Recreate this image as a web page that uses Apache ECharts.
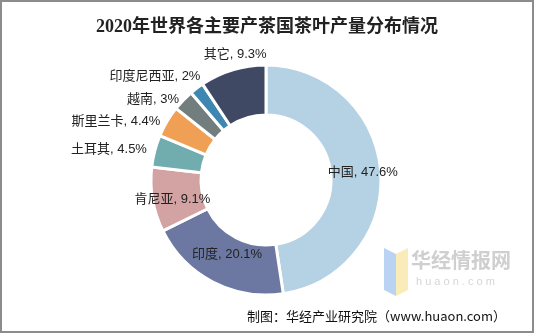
<!DOCTYPE html>
<html><head><meta charset="utf-8">
<script src="https://cdn.jsdelivr.net/npm/echarts@6/dist/echarts.min.js"></script>
<style>html,body{margin:0;padding:0;background:#fff}#c{width:534px;height:333px}</style>
</head><body><div id="c"></div>
<script>
const categories = ['中国','印度','肯尼亚','土耳其','斯里兰卡','越南','印度尼西亚','其它'];
const values = [47.6, 20.1, 9.1, 4.5, 4.4, 3, 2, 9.3];
const colors = ['#b5d1e4','#6c78a1','#d3a2a3','#71adae','#f0a054','#727e7e','#3d87b2','#3f4963'];
const labelOffsets = [[4,-1],[4,-8],[-2,3],[-67,-7],[-70,-11],[-46,-16],[-55,-29],[-4,-37]];
const titleText = '2020年世界各主要产茶国茶叶产量分布情况';
const sourceText = '制图：华经产业研究院（www.huaon.com）';

const chart = echarts.init(document.getElementById('c'), null, {renderer:'canvas'});
const data = categories.map((n,i)=>({
  name:n, value:values[i],
  itemStyle:{color:colors[i]},
  label:{offset:labelOffsets[i]}
}));
chart.setOption({
  animation:false,
  title:{text:titleText,left:'center',top:13,
    textStyle:{fontFamily:"'Liberation Serif','Noto Sans CJK SC'",fontSize:18,fontWeight:'bold',color:'#222'}},
  graphic:[
    {type:'rect',shape:{x:1,y:1,width:532,height:331},style:{fill:'none',stroke:'#8c8c8c',lineWidth:2},z:100},
    {type:'polygon',shape:{points:[[384,248],[396,254],[396,296],[384,290]]},style:{fill:'#a9c8f0',opacity:0.8}},
    {type:'polygon',shape:{points:[[396,254],[408,248],[408,290],[396,296]]},style:{fill:'#f7e7a6',opacity:0.8}},
    {type:'text',left:411,top:250,style:{text:'华经情报网',font:"bold 20px 'Noto Sans CJK SC'",fill:'#cfcfcf'}},
    {type:'text',left:416,top:276,style:{text:'h u a o n . c o m',font:"11px 'Liberation Sans'",fill:'#d6d6d6'}},
    {type:'text',right:28,top:310,style:{text:sourceText,font:"13px 'Noto Sans CJK SC'",fill:'#111'}}
  ],
  series:[{
    type:'pie',
    center:[266,180],
    radius:[65,115],
    startAngle:90,
    clockwise:true,
    avoidLabelOverlap:false,
    itemStyle:{borderColor:'#fff',borderWidth:3},
    label:{show:true,position:'inside',formatter:'{b}, {c}%',
      fontFamily:"'Liberation Sans','Noto Sans CJK SC'",fontSize:13,color:'#222'},
    labelLine:{show:false},
    data:data
  }]
});
</script></body></html>
